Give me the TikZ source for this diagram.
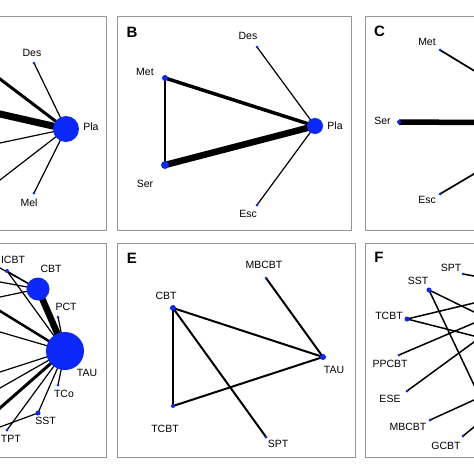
\documentclass[tikz,border=0pt]{standalone}
\usepackage{fontspec}
\setmainfont{Liberation Sans}
\definecolor{nb}{RGB}{10,40,250}
\definecolor{fr}{RGB}{150,150,150}
\tikzset{
  dot/.style={circle,fill=nb,inner sep=0pt,minimum size=#1},
  dot/.default=3pt,
  lab/.style={font=\fontsize{10.5}{12}\selectfont,inner sep=0pt},
  plab/.style={font=\fontsize{15}{16}\selectfont\bfseries,inner sep=0pt},
  frm/.style={draw=fr,line width=1pt},
  lnk/.style={line width=#1,draw=black},
  lnk/.default=1.2pt,
  ext/.style={shorten >=-14pt},
}
\begin{document}
\begin{tikzpicture}[x=1pt,y=-1pt]
\useasboundingbox (0,0) rectangle (474,474);
\fill[white] (0,0) rectangle (474,474);
\clip (0,0) rectangle (474,474);
% frames
\draw[frm] (-128,16) rectangle (106,230);
\draw[frm] (117,16) rectangle (351,230);
\draw[frm] (365,16) rectangle (599,230);
\draw[frm] (-128,243) rectangle (106,457);
\draw[frm] (117,243) rectangle (355,457);
\draw[frm] (365,243) rectangle (599,457);

% ---------- Panel A ----------
\coordinate (Apla) at (66,129);
\coordinate (Ades) at (34,63);
\coordinate (Amel) at (34,193);
\coordinate (Aw1) at (0,79);
\coordinate (Aw2) at (0,114);
\coordinate (Aw3) at (0,143);
\coordinate (Aw4) at (0,180);
\draw[lnk=3pt,ext] (Apla) -- (Aw1);
\draw[lnk=7pt,ext] (Apla) -- (Aw2);
\draw[lnk,ext] (Apla) -- (Aw3);
\draw[lnk,ext] (Apla) -- (Aw4);
\draw[lnk] (Apla) -- (Ades);
\draw[lnk] (Apla) -- (Amel);
\node[dot=26pt] (ApN) at (Apla) {};
\node[dot=3pt] (AdN) at (Ades) {};
\node[dot=3pt] (AmN) at (Amel) {};
\node[lab] (ApL) at (91,127) {Pla};
\node[lab] (AdL) at (32,53) {Des};
\node[lab] (AmL) at (29,203) {Mel};

% ---------- Panel B ----------
\node[plab] (BL) at (132,32.5) {B};
\coordinate (Bmet) at (165,78);
\coordinate (Bser) at (165,165);
\coordinate (Bpla) at (315,126);
\coordinate (Bdes) at (257,47);
\coordinate (Besc) at (257,205);
\draw[lnk=1.7pt] (Bmet) -- (Bser);
\draw[lnk=3.5pt] (Bmet) -- (Bpla);
\draw[lnk=6.5pt] (Bser) -- (Bpla);
\draw[lnk] (Bdes) -- (Bpla);
\draw[lnk] (Besc) -- (Bpla);
\node[dot=6pt] (BmN) at (Bmet) {};
\node[dot=8pt] (BsN) at (Bser) {};
\node[dot=16pt] (BpN) at (Bpla) {};
\node[dot=3pt] (BdN) at (Bdes) {};
\node[dot=3pt] (BeN) at (Besc) {};
\node[lab] (BmL) at (145,72) {Met};
\node[lab] (BsL) at (145,184) {Ser};
\node[lab] (BpL) at (335,126) {Pla};
\node[lab] (BdL) at (248,36) {Des};
\node[lab] (BeL) at (248,214) {Esc};

% ---------- Panel C ----------
\node[plab] (CL) at (379.5,31.5) {C};
\coordinate (Cmet) at (440,50);
\coordinate (Cser) at (399,122);
\coordinate (Cesc) at (440,194);
\coordinate (Cpla) at (560,123);
\draw[lnk=1.7pt] (Cmet) -- (Cpla);
\draw[lnk=5.5pt] (Cser) -- (Cpla);
\draw[lnk=1.7pt] (Cesc) -- (Cpla);
\node[dot=3pt] (CmN) at (Cmet) {};
\node[dot=4pt] (CsN) at (Cser) {};
\node[dot=3pt] (CeN) at (Cesc) {};
\node[lab] (CmL) at (427,41.5) {Met};
\node[lab] (CsL) at (382.5,121) {Ser};
\node[lab] (CeL) at (427,200) {Esc};

% ---------- Panel D ----------
\coordinate (Dcbt) at (38,289);
\coordinate (Dtau) at (65,351);
\coordinate (Dicbt) at (7,271);
\coordinate (Dpct) at (58,317);
\coordinate (Dtco) at (58,385);
\coordinate (Dsst) at (38,413);
\coordinate (Dtpt) at (7,430);
\coordinate (Dw1) at (0,268);
\coordinate (Dw2) at (0,282);
\coordinate (Dw3) at (0,297);
\coordinate (Dw4) at (0,311);
\coordinate (Dw5) at (0,332);
\coordinate (Dw6) at (0,372);
\coordinate (Dw7) at (0,388);
\coordinate (Dw8) at (0,408);
\coordinate (Dw9) at (0,427);
\draw[lnk,ext] (Dcbt) -- (Dw1);
\draw[lnk,ext] (Dcbt) -- (Dw2);
\draw[lnk,ext] (Dcbt) -- (Dw3);
\draw[lnk=2.5pt,ext] (Dtau) -- (Dw4);
\draw[lnk,ext] (Dtau) -- (Dw5);
\draw[lnk,ext] (Dtau) -- (Dw6);
\draw[lnk,ext] (Dtau) -- (Dw7);
\draw[lnk=3pt,ext] (Dtau) -- (Dw8);
\draw[lnk,ext] (Dsst) -- (Dw9);
\draw[lnk=6.5pt] (Dcbt) -- (Dtau);
\draw[lnk] (Dicbt) -- (Dcbt);
\draw[lnk] (Dicbt) -- (Dtau);
\draw[lnk] (Dpct) -- (Dtau);
\draw[lnk] (Dtco) -- (Dtau);
\draw[lnk] (Dsst) -- (Dtau);
\draw[lnk] (Dtpt) -- (Dtau);
\node[dot=23pt] (DcN) at (Dcbt) {};
\node[dot=38pt] (DtN) at (Dtau) {};
\node[dot=4pt] (DiN) at (Dicbt) {};
\node[dot=3pt] (DpN) at (Dpct) {};
\node[dot=3pt] (DoN) at (Dtco) {};
\node[dot=5pt] (DsN) at (Dsst) {};
\node[dot=3pt] (DxN) at (Dtpt) {};
\node[lab] (DcL) at (51,269) {CBT};
\node[lab] (DiL) at (13,260) {ICBT};
\node[lab] (DpL) at (66,307) {PCT};
\node[lab] (DtL) at (87,373) {TAU};
\node[lab] (DoL) at (64,394) {TCo};
\node[lab] (DsL) at (45.5,421) {SST};
\node[lab,anchor=west] (DxL) at (0.8,439) {TPT};

% ---------- Panel E ----------
\node[plab] (EL) at (132,258) {E};
\coordinate (Ecbt) at (173,308);
\coordinate (Etcbt) at (173,406);
\coordinate (Embcbt) at (266,278);
\coordinate (Etau) at (323,357);
\coordinate (Espt) at (266,437);
\draw[lnk=2pt] (Ecbt) -- (Etcbt);
\draw[lnk=2pt] (Ecbt) -- (Etau);
\draw[lnk=2pt] (Ecbt) -- (Espt);
\draw[lnk=2pt] (Etcbt) -- (Etau);
\draw[lnk=2pt] (Embcbt) -- (Etau);
\node[dot=6pt] (EcN) at (Ecbt) {};
\node[dot=4pt] (EtN) at (Etcbt) {};
\node[dot=3pt] (EmN) at (Embcbt) {};
\node[dot=6pt] (EuN) at (Etau) {};
\node[dot=3pt] (EsN) at (Espt) {};
\node[lab] (EcL) at (166,296) {CBT};
\node[lab] (EtL) at (165,429) {TCBT};
\node[lab] (EmL) at (264,265) {MBCBT};
\node[lab] (EuL) at (334,370) {TAU};
\node[lab] (EsL) at (278,444) {SPT};

% ---------- Panel F ----------
\node[plab] (FL) at (379,257) {F};
\coordinate (Fspt) at (463,274);
\coordinate (Fsst) at (429,290);
\coordinate (Ftcbt) at (407,319);
\coordinate (Fppcbt) at (399,355);
\coordinate (Fese) at (407,391);
\coordinate (Fmbcbt) at (430,420);
\coordinate (Fgcbt) at (463,436);
\coordinate (Fw1) at (474,276);
\coordinate (Fw2) at (474,303);
\coordinate (Fw3) at (474,312);
\coordinate (Fw4) at (474,323);
\coordinate (Fw5) at (474,336);
\coordinate (Fw6) at (474,342);
\coordinate (Fw7) at (474,385);
\coordinate (Fw8) at (474,400);
\coordinate (Fw9) at (474,427);
\draw[lnk=1.5pt,ext] (Fspt) -- (Fw1);
\draw[lnk=1.5pt,ext] (Ftcbt) -- (Fw2);
\draw[lnk=1.5pt,ext] (Fsst) -- (Fw3);
\draw[lnk=1.5pt,ext] (Fppcbt) -- (Fw4);
\draw[lnk=1.5pt,ext] (Ftcbt) -- (Fw5);
\draw[lnk=1.5pt,ext] (Fese) -- (Fw6);
\draw[lnk=1.5pt,ext] (Fsst) -- (Fw7);
\draw[lnk=1.5pt,ext] (Fmbcbt) -- (Fw8);
\draw[lnk=1.5pt,ext] (Fgcbt) -- (Fw9);
\node[dot=3pt] (FpN) at (Fspt) {};
\node[dot=5pt] (FsN) at (Fsst) {};
\node[dot=5pt] (FtN) at (Ftcbt) {};
\node[dot=3pt] (FqN) at (Fppcbt) {};
\node[dot=3pt] (FeN) at (Fese) {};
\node[dot=3pt] (FmN) at (Fmbcbt) {};
\node[dot=3pt] (FgN) at (Fgcbt) {};
\node[lab] (FpL) at (451,268) {SPT};
\node[lab] (FsL) at (418,281) {SST};
\node[lab] (FtL) at (389,316) {TCBT};
\node[lab] (FqL) at (390,364) {PPCBT};
\node[lab] (FeL) at (390,399) {ESE};
\node[lab] (FmL) at (408,427) {MBCBT};
\node[lab] (FgL) at (446,446) {GCBT};
\end{tikzpicture}
\end{document}
